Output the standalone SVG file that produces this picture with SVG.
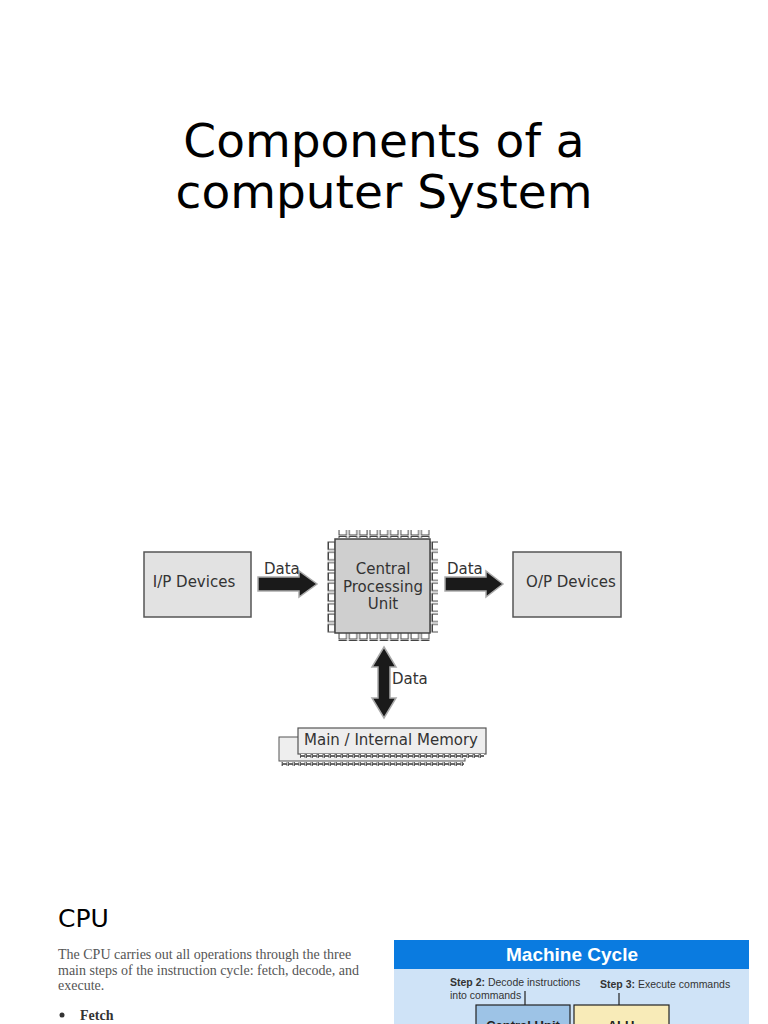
<svg xmlns="http://www.w3.org/2000/svg" width="768" height="1024" viewBox="0 0 768 1024">
<defs>
<style>
.box{fill:#e2e2e2;stroke:#555;stroke-width:1.5}
.lbl{font-family:"DejaVu Sans",sans-serif;font-size:15px;fill:#333}
.arr{fill:#1a1a1a;stroke:#aaa;stroke-width:1.5}
</style>
<pattern id="pt" x="0" y="0" width="6" height="4" patternUnits="userSpaceOnUse"><rect x="0.5" y="0.5" width="4.5" height="3" fill="#fff" stroke="#444" stroke-width="0.8"/></pattern>
<pattern id="pv" x="0" y="541" width="8" height="10.3" patternUnits="userSpaceOnUse"><rect x="0.5" y="1" width="6.5" height="7.5" fill="#fff" stroke="#444" stroke-width="1"/></pattern>
<pattern id="ph" x="338" y="0" width="10.3" height="8" patternUnits="userSpaceOnUse"><rect x="1" y="0.5" width="7.5" height="6.5" fill="#fff" stroke="#444" stroke-width="1"/></pattern>
</defs>
<rect width="768" height="1024" fill="#fff"/>
<text x="384" y="157" text-anchor="middle" font-family="DejaVu Sans,sans-serif" font-size="47" fill="#000">Components of a</text>
<text x="384" y="208" text-anchor="middle" font-family="DejaVu Sans,sans-serif" font-size="47" fill="#000">computer System</text>

<g id="ip"><rect class="box" x="144" y="552" width="107" height="65"/><text class="lbl" x="194" y="587" text-anchor="middle">I/P Devices</text></g>
<g id="op"><rect class="box" x="513" y="552" width="108" height="65"/><text class="lbl" x="571" y="587" text-anchor="middle">O/P Devices</text></g>
<g id="cpu">
<rect x="338" y="530" width="92" height="8" fill="url(#ph)"/>
<rect x="338" y="633" width="92" height="8" fill="url(#ph)"/>
<rect x="327" y="541" width="8" height="92" fill="url(#pv)"/>
<rect x="430" y="541" width="8" height="92" fill="url(#pv)"/>
<rect x="335" y="539" width="95" height="94" fill="#cfcfcf" stroke="#444" stroke-width="1.5"/>
<text class="lbl" x="383" y="574" text-anchor="middle">Central</text>
<text class="lbl" x="383" y="592" text-anchor="middle">Processing</text>
<text class="lbl" x="383" y="609" text-anchor="middle">Unit</text>
</g>
<g id="mem">
<rect x="279" y="737" width="186" height="24" fill="#eee" stroke="#555" stroke-width="1"/>
<rect x="281" y="762" width="183" height="4" fill="url(#pt)"/>
<rect x="298" y="728" width="188" height="26" fill="#eee" stroke="#555" stroke-width="1.2"/>
<rect x="300" y="754" width="184" height="4" fill="url(#pt)"/>
<text class="lbl" x="391" y="745" text-anchor="middle">Main / Internal Memory</text>
</g>
<g id="connectors">
<path class="arr" d="M258,577 H299 V571 L317,584 L299,597 V591 H258 Z"/>
<path class="arr" d="M445,577 H486 V571 L503,584 L486,597 V591 H445 Z"/>
<path class="arr" d="M384,647 L396,667 H390 V698 H396 L384,718 L372,698 H378 V667 H372 Z"/>
<text class="lbl" x="264" y="574">Data</text>
<text class="lbl" x="447" y="574">Data</text>
<text class="lbl" x="392" y="684">Data</text>
</g>

<text x="58" y="927" font-family="DejaVu Sans,sans-serif" font-size="25" fill="#000">CPU</text>
<g font-family="Liberation Serif,serif" font-size="14" fill="#555">
<text x="58" y="959">The CPU carries out all operations through the three</text>
<text x="58" y="975">main steps of the instruction cycle: fetch, decode, and</text>
<text x="58" y="990">execute.</text>
</g>
<circle cx="62" cy="1015" r="2.5" fill="#333"/>
<text x="80" y="1020" font-family="Liberation Serif,serif" font-size="14" font-weight="bold" fill="#333">Fetch</text>

<g id="machine">
<rect x="394" y="940" width="355" height="84" fill="#cfe3f7"/>
<rect x="394" y="940" width="355" height="29" fill="#0a7be0"/>
<text x="572" y="961" text-anchor="middle" font-family="Liberation Sans,sans-serif" font-size="19" font-weight="bold" fill="#fff">Machine Cycle</text>
<g font-family="Liberation Sans,sans-serif" font-size="10.5" fill="#333">
<text x="450" y="986"><tspan font-weight="bold">Step 2:</tspan> Decode instructions</text>
<text x="450" y="999">into commands</text>
<text x="600" y="988"><tspan font-weight="bold">Step 3:</tspan> Execute commands</text>
</g>
<path d="M525,991 V1005 M619,993 V1005" stroke="#222" stroke-width="1.2"/>
<rect x="476" y="1005" width="94" height="30" fill="#9dc3e6" stroke="#222" stroke-width="1.2"/>
<rect x="574" y="1005" width="95" height="30" fill="#f8ebb8" stroke="#222" stroke-width="1.2"/>
<text x="523" y="1030" text-anchor="middle" font-family="Liberation Sans,sans-serif" font-size="13" font-weight="bold" fill="#222">Central Unit</text>
<text x="621" y="1030" text-anchor="middle" font-family="Liberation Sans,sans-serif" font-size="13" font-weight="bold" fill="#222">ALU</text>
</g>
</svg>
